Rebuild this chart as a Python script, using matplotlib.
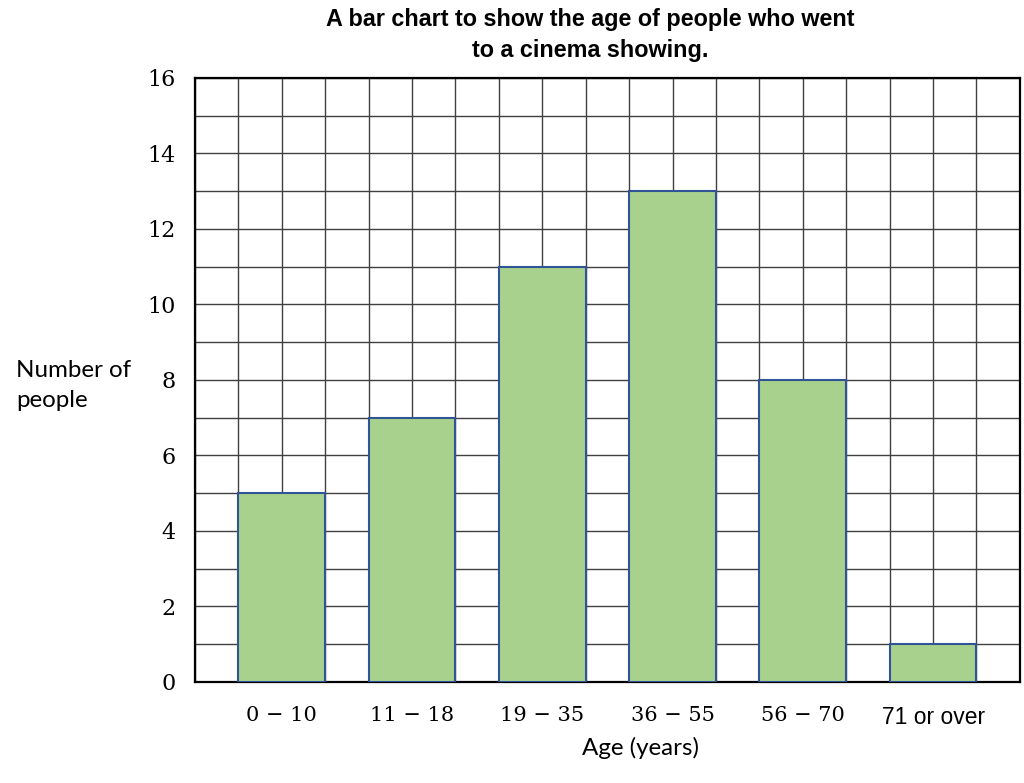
import matplotlib.pyplot as plt
import numpy as np

# dati
fasce = ['0 \u2212 10', '11 \u2212 18', '19 \u2212 35', '36 \u2212 55', '56 \u2212 70', '71 or over']
persone = [5, 7, 11, 13, 8, 1]

# ogni barra occupa 2 colonne della griglia, 1 colonna di spazio
pos = np.arange(len(fasce)) * 3 + 2

fig = plt.figure(figsize=(10.24, 7.83), dpi=100)
ax = fig.add_axes([0.1904, 0.129, 0.8056, 0.7714])

ax.bar(pos, persone, width=2, color='#A9D18E', edgecolor='#2F5597', linewidth=1.5, zorder=3)

ax.set_xlim(0, 19)
ax.set_ylim(0, 16)
ax.set_xticks(pos)
ax.set_xticklabels(fasce)
ax.set_xticks(np.arange(0, 20), minor=True)
ax.set_yticks(np.arange(0, 17, 2))
ax.set_yticks(np.arange(0, 17, 1), minor=True)
ax.xaxis.remove_overlapping_locs = False
ax.yaxis.remove_overlapping_locs = False
ax.grid(which='minor', color='#404040', linewidth=1.0, zorder=0)
ax.tick_params(which='both', length=0)
ax.tick_params(axis='x', pad=17)
ax.tick_params(axis='y', pad=14)

for lab in ax.get_xticklabels():
    if lab.get_text() == '71 or over':
        lab.set_fontfamily('Liberation Sans')
        lab.set_fontsize(16.5)
    else:
        lab.set_fontfamily('DejaVu Serif')
        lab.set_fontsize(15)
for lab in ax.get_yticklabels():
    lab.set_fontfamily('DejaVu Serif')
    lab.set_fontsize(16)

for s in ax.spines.values():
    s.set_linewidth(1.6)
    s.set_color('black')

fig.text(0.576, 0.99, 'A bar chart to show the age of people who went\nto a cinema showing.',
         ha='center', va='top', fontsize=16.8, fontweight='bold', family='Liberation Sans',
         linespacing=1.45)
fig.text(0.016, 0.508, 'Number of\npeople', ha='left', va='center', fontsize=17.4,
         family='Lato', linespacing=1.55)
fig.text(0.625, 0.045, 'Age (years)', ha='center', va='center', fontsize=17.4, family='Lato')

fig.savefig('out.png', dpi=100)
